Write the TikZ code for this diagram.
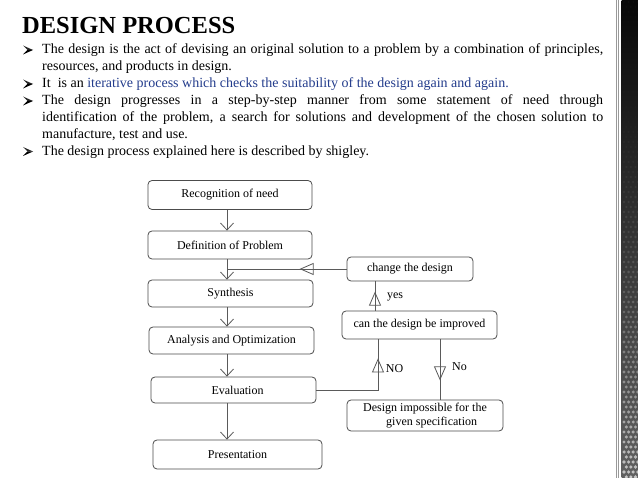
\documentclass[tikz,border=0pt]{standalone}
\usepackage{fontspec}
\setmainfont{Liberation Serif}
\usetikzlibrary{arrows.meta,decorations.markings}
\definecolor{txtblue}{RGB}{35,60,140}
\definecolor{lin}{RGB}{90,90,90}
\begin{document}
\begin{tikzpicture}[x=1pt,y=-1pt,
  box/.style={draw=black!70, rounded corners=4pt, line width=0.8pt, inner sep=0pt,
    font=\fontsize{12}{13.5}\selectfont},
  flow/.style={draw=lin, line width=0.8pt, -{Straight Barb[length=7pt,width=13pt]}},
  conn/.style={draw=lin, line width=0.8pt},
  midtri/.style={postaction={decorate}, decoration={markings,
    mark=at position #1 with {\arrow{Triangle[open,length=14pt,width=12pt,line width=0.8pt]}}}},
  txt/.style={anchor=base west, inner sep=0pt, font=\fontsize{14}{17}\selectfont},
  lab/.style={inner sep=0pt, font=\fontsize{12}{13.5}\selectfont}
]
\useasboundingbox (0,0) rectangle (638,478);
\fill[white] (0,0) rectangle (638,478);
% right decorative strip
\draw[black!40, line width=0.5pt] (616.3,0) -- (616.3,478);
\draw[black!40, line width=0.5pt] (618.3,0) -- (618.3,478);
\shade[top color=black!97, bottom color=black!62] (621.5,0) rectangle (638,478);
\foreach \j in {0,...,95} {
  \pgfmathsetmacro\c{int(6+72*(\j/95)^1.6)}
  \pgfmathsetmacro\r{0.9+0.9*\j/95}
  \foreach \i in {0,...,3} {
    \fill[white!\c!black] ({624+\i*4.6+mod(\j,2)*2.3}, {\j*5+2}) circle (\r);
  }
}
% title and bullet text
\node[anchor=base west, inner sep=0pt, font=\bfseries\fontsize{24.5}{28}\selectfont] (title) at (22,34) {DESIGN PROCESS};
\foreach \by in {50,84,101,151.5} {
  \fill[black!85] (33,\by) -- (23,{\by-4.5}) -- (27.5,\by) -- cycle;
  \fill[black] (33,\by) -- (23,{\by+4.5}) -- (27.5,\by) -- cycle;
}
\node[txt] (l1) at (42,54) {\makebox[561pt][s]{The design is the act of devising an original solution to a problem by a combination of principles,}};
\node[txt] (l2) at (42,71) {resources, and products in design.};
\node[txt] (l3) at (42,88) {It\ \ is an \textcolor{txtblue}{iterative process which checks the suitability of the design again and again.}};
\node[txt] (l4) at (42,105) {\makebox[561pt][s]{The design progresses in a step-by-step manner from some statement of need through}};
\node[txt] (l5) at (42,121.5) {\makebox[561pt][s]{identification of the problem, a search for solutions and development of the chosen solution to}};
\node[txt] (l6) at (42,138.5) {manufacture, test and use.};
\node[txt] (l7) at (42,155.5) {The design process explained here is described by shigley.};
% flowchart boxes
\node[box, minimum width=164pt, minimum height=29pt] (rec) at (230,195) {Recognition of need};
\node[box, minimum width=164pt, minimum height=28pt] (def) at (230,245) {Definition of Problem};
\node[box, minimum width=165pt, minimum height=27pt] (syn) at (230.5,293.5) {Synthesis};
\node[box, minimum width=165pt, minimum height=27pt] (ana) at (231.5,340.5) {Analysis and Optimization};
\node[box, minimum width=165pt, minimum height=26pt] (eva) at (233.5,390) {\hspace*{8pt}Evaluation};
\node[box, minimum width=169pt, minimum height=29pt] (pre) at (237.5,454.5) {Presentation};
\node[box, minimum width=126pt, minimum height=24pt] (chg) at (410,269) {change the design};
\node[box, minimum width=155pt, minimum height=28pt] (can) at (419.5,325) {can the design be improved};
\node[box, minimum width=156pt, minimum height=31pt, align=left] (imp) at (425,415.5) {Design impossible for the\\\hspace*{23pt}given specification};
% spine coordinates
\coordinate (spine) at (227,0);
\coordinate (yesx) at (375,0);
\coordinate (nox) at (378,0);
\coordinate (nox2) at (440,0);
% main flow
\draw[flow] (rec.south -| spine) -- (def.north -| spine);
\draw[flow] (def.south -| spine) -- (syn.north -| spine);
\draw[flow] (syn.south -| spine) -- (ana.north -| spine);
\draw[flow] (ana.south -| spine) -- (eva.north -| spine);
\draw[flow] (eva.south -| spine) -- (pre.north -| spine);
% feedback
\draw[conn, midtri=47pt] (chg.west) -- (chg.west -| spine);
\draw[conn, midtri=19pt] (can.north -| yesx) -- (chg.south -| yesx);
\draw[conn, midtri=-19pt] (eva.east) -| (can.south -| nox);
\draw[conn, midtri=41pt] (can.south -| nox2) -- (imp.north -| nox2);
% labels
\node[lab] (yes) at (395,297) {yes};
\node[lab] (nol) at (394.5,369) {NO};
\node[lab] (nor) at (459.5,366.5) {No};
\end{tikzpicture}
\end{document}
